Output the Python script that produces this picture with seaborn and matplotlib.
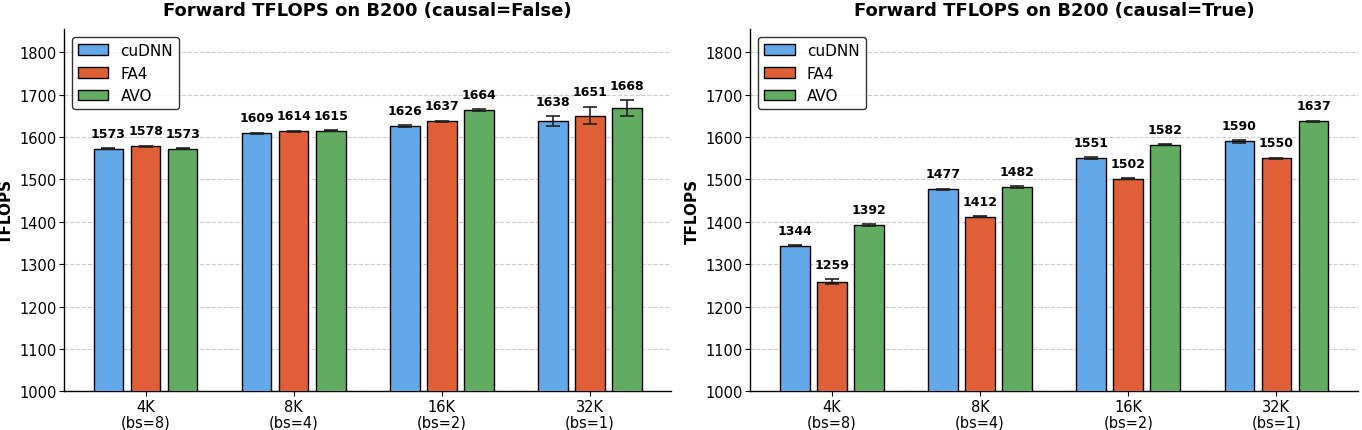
import numpy as np
import pandas as pd
import matplotlib
matplotlib.use('Agg')
import matplotlib.pyplot as plt
import seaborn as sns

# data
seq_labels = ['4K\n(bs=8)', '8K\n(bs=4)', '16K\n(bs=2)', '32K\n(bs=1)']
methods = ['cuDNN', 'FA4', 'AVO']

nocausal_cudnn = [1573, 1609, 1626, 1638]
nocausal_fa4 = [1578, 1614, 1637, 1651]
nocausal_avo = [1573, 1615, 1664, 1668]
nocausal_cudnn_err = [1.5, 1.5, 2, 11]
nocausal_fa4_err = [1.5, 1.5, 2, 21]
nocausal_avo_err = [1.5, 1.5, 1.5, 19]

causal_cudnn = [1344, 1477, 1551, 1590]
causal_fa4 = [1259, 1412, 1502, 1550]
causal_avo = [1392, 1482, 1582, 1637]
causal_cudnn_err = [1.5, 1.5, 1.5, 3]
causal_fa4_err = [6, 1.5, 1.5, 1.5]
causal_avo_err = [3, 1.5, 1.5, 2]

colors = ['#63A9E9', '#E05F37', '#61AC61']

sns.set_style('white')
plt.rcParams['font.family'] = ['DejaVu Sans']
plt.rcParams['text.color'] = 'black'
plt.rcParams['axes.labelcolor'] = 'black'
plt.rcParams['xtick.color'] = 'black'
plt.rcParams['ytick.color'] = 'black'

fig, axes = plt.subplots(1, 2, figsize=(13.62, 4.31), dpi=100)

panels = [
    ('Forward TFLOPS on B200 (causal=False)',
     [nocausal_cudnn, nocausal_fa4, nocausal_avo],
     [nocausal_cudnn_err, nocausal_fa4_err, nocausal_avo_err]),
    ('Forward TFLOPS on B200 (causal=True)',
     [causal_cudnn, causal_fa4, causal_avo],
     [causal_cudnn_err, causal_fa4_err, causal_avo_err]),
]

for ax, (title, vals, errs) in zip(axes, panels):
    rows = []
    for m, v, e in zip(methods, vals, errs):
        for s, vv, ee in zip(seq_labels, v, e):
            rows.append({'seq': s, 'method': m, 'tflops': vv, 'err': ee})
    df = pd.DataFrame(rows)

    sns.barplot(data=df, x='seq', y='tflops', hue='method', hue_order=methods,
                order=seq_labels, palette=colors, saturation=1, width=0.75, gap=0.2,
                edgecolor='black', linewidth=1.0, errorbar=None, ax=ax, zorder=3)

    # error bars + labels on each bar
    for i, m in enumerate(methods):
        cont = ax.containers[i]
        sub = df[df['method'] == m].set_index('seq').loc[seq_labels]
        for bar, v, e in zip(cont, sub['tflops'], sub['err']):
            xc = bar.get_x() + bar.get_width() / 2
            ax.errorbar(xc, v, yerr=e, color='#222222', capsize=5,
                        elinewidth=1.2, capthick=1.2, zorder=4)
            ax.annotate(f'{v}', (xc, v + e), xytext=(0, 6),
                        textcoords='offset points', ha='center', va='bottom',
                        fontsize=9, fontweight='bold', color='black')

    ax.set_ylim(1000, 1855)
    ax.set_xlim(-0.55, 3.55)
    ax.set_yticks(np.arange(1000, 1801, 100))
    ax.set_title(title, fontsize=13, fontweight='bold', pad=10)
    ax.set_xlabel('')
    ax.set_ylabel('TFLOPS', fontsize=11, fontweight='bold', labelpad=4)
    ax.tick_params(axis='both', labelsize=10.5, left=True, bottom=True, length=3.5, pad=2)
    for lbl in ax.get_xticklabels():
        lbl.set_linespacing(1.05)
    ax.grid(axis='y', linestyle='--', color='#cccccc', linewidth=0.8, zorder=0)
    ax.set_axisbelow(True)
    for sp in ['top', 'right']:
        ax.spines[sp].set_visible(False)
    for sp in ['left', 'bottom']:
        ax.spines[sp].set_color('black')
        ax.spines[sp].set_linewidth(1.0)
    leg = ax.legend(loc='upper left', fontsize=11, frameon=True,
                    edgecolor='black', fancybox=True)
    leg.get_frame().set_linewidth(1.0)

fig.subplots_adjust(left=0.047, right=0.997, top=0.93, bottom=0.09, wspace=0.13)
plt.savefig('out.png', dpi=100)
